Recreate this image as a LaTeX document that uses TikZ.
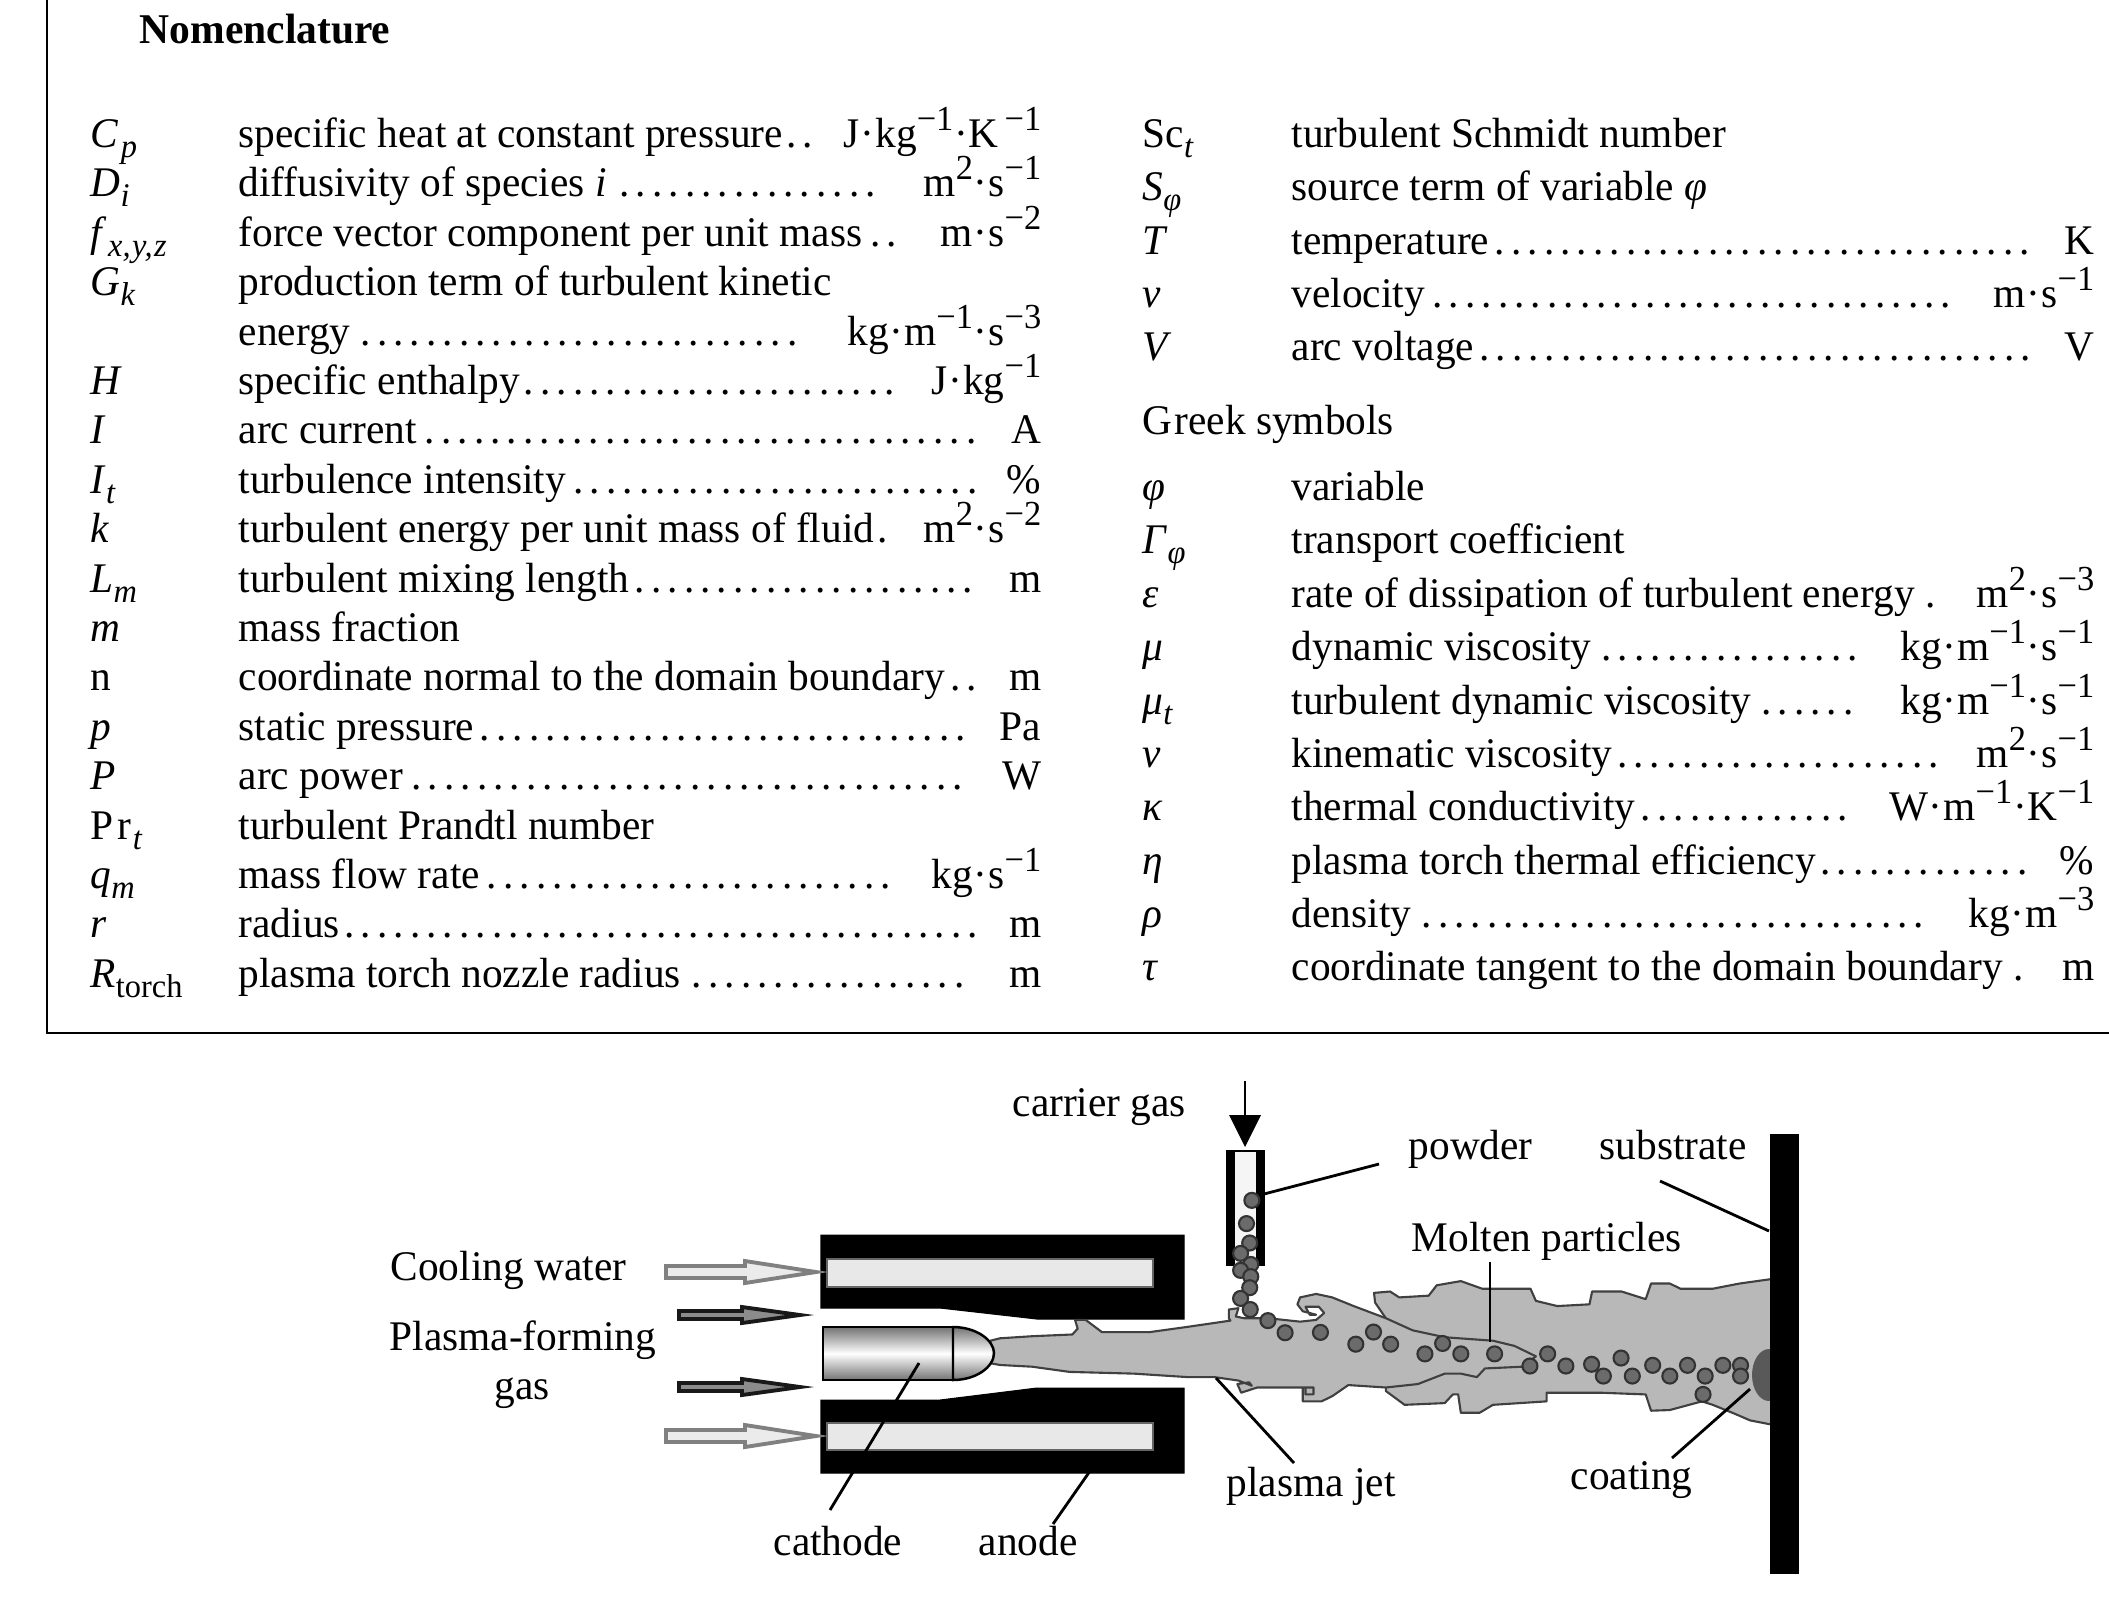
\documentclass[tikz,border=0pt]{standalone}
\usepackage{fontspec}
\setmainfont[FakeStretch=0.98]{Liberation Serif}
\newdimen\pxunit \pxunit=0.01cm
\newcommand\sbs[1]{\raisebox{-.24em}{\fontsize{9.4pt}{9pt}\selectfont #1}}
\newcommand\sps[1]{\raisebox{.4em}{\fontsize{10pt}{9pt}\selectfont #1}}
\newcommand\mdot{\kern.02em·\kern.02em}
\newcommand\mn{−}
\newcommand\dotrun{\cleaders\hbox to 16.4\pxunit{\hss.\hss}\hfill}
\def\colS{90}\def\colT{238}\def\colU{1042}
\newcommand\entry[4]{%
  \node[tx] (s#1) at (\colS,#2+1) {#3};
  \node[tx] (t#1) at (\colT,#2+1) {#4};}
\newcommand\entryu[6]{%
  \node[tx] (s#1) at (\colS,#2+1) {#3};
  \node[tx] (t#1) at (\colT,#2+1) {\hbox to \dimexpr\numexpr #5-\colT\relax\pxunit\relax{#4\dotrun}};
  \node[ux] (u#1) at (\colU,#2+1) {#6};}
\newcommand\entryc[5]{%
  \node[tx] (t#1) at (\colT,#2+1) {\hbox to \dimexpr\numexpr #4-\colT\relax\pxunit\relax{#3\dotrun}};
  \node[ux] (u#1) at (\colU,#2+1) {#5};}
\tikzset{
  tx/.style={anchor=base west,inner sep=0pt,font=\fontsize{12pt}{13pt}\selectfont},
  ux/.style={anchor=base east,inner sep=0pt,font=\fontsize{12pt}{13pt}\selectfont},
  lab/.style={anchor=base west,inner sep=0pt,font=\fontsize{12pt}{13pt}\selectfont},
  leader/.style={line width=0.8pt,black},
  anodeblk/.style={fill=black,draw=black,line width=0.3pt},
  hole/.style={fill=black!9,draw=black!60,line width=0.4pt},
  cath/.style={draw=black,line width=0.7pt,top color=black!55,bottom color=black!55,middle color=white},
  plume/.style={fill=black!28,draw=black!75,line width=0.6pt,line join=round},
  ptcl/.style={fill=black!58,draw=black!80,line width=0.6pt},
  hollowarr/.style={fill=black!8,draw=black!50,line width=1.1pt,line join=miter},
  darkarr/.style={fill=black!45,draw=black!90,line width=1.1pt,line join=miter},
}
\begin{document}
\begin{tikzpicture}[x=0.01cm,y=-0.01cm]
\useasboundingbox (0,0) rectangle (2109,1602);
% frame
\coordinate (fa) at (47,0); \coordinate (fb) at (47,1033); \coordinate (fc) at (2109,1033);
\draw[line width=0.5pt] (fa) -- (fb) -- (fc);
\node[tx,font=\fontsize{12.05pt}{14pt}\selectfont\bfseries] (title) at (139,43) {Nomenclature};
% left column
\entryu{a}{146}{\textit{C}\kern.05em\sbs{\textit{p}}}{specific heat at constant pressure}{816}{J\mdot kg\sps{\mn 1}\mdot K\sps{\,\mn 1}}
\entryu{b}{195}{\textit{D}\sbs{\textit{i}}}{diffusivity of species \textit{i}\,}{881}{m\sps{2}\mdot s\sps{\mn 1}}
\entryu{c}{245}{\textit{f}\kern.03em\sbs{\textit{x,\kern.04em y,\kern.04em z}}}{force vector component per unit mass}{904}{m\mdot s\sps{\mn 2}}
\entry{d}{294}{\textit{G}\sbs{\textit{k}}}{production term of turbulent kinetic}
\entryc{e}{344}{energy}{807}{kg\mdot m\sps{\mn 1}\mdot s\sps{\mn 3}}
\entryu{f}{393}{\textit{H}}{specific enthalpy}{898}{J\mdot kg\sps{\mn 1}}
\entryu{g}{442}{\textit{I}}{arc current}{984}{A}
\entryu{h}{492}{\textit{I}\sbs{\textit{t}}}{turbulence intensity}{984}{\%}
\entryu{i}{541}{\textit{k}}{turbulent energy per unit mass of fluid}{890}{m\sps{2}\mdot s\sps{\mn 2}}
\entryu{j}{591}{\textit{L}\sbs{\textit{m}}}{turbulent mixing length}{978}{m}
\entry{k}{640}{\textit{m}}{mass fraction}
\entryu{l}{689}{n}{coordinate normal to the domain boundary}{982}{m}
\entryu{m}{739}{\textit{p}}{static pressure}{971}{Pa}
\entryu{n}{788}{\textit{P}}{arc power}{971}{W}
\entry{o}{838}{P\kern.08em r\kern.05em\sbs{\textit{t}}}{turbulent Prandtl number}
\entryu{p}{887}{\textit{q}\sbs{\textit{m}}}{mass flow rate}{897}{kg\mdot s\sps{\mn 1}}
\entryu{q}{936}{\textit{r}}{radius}{982}{m}
\entryu{r}{986}{\textit{R}\sbs{torch}}{plasma torch nozzle radius}{975}{m}
% right column
\def\colS{1142}\def\colT{1291}\def\colU{2095}
\entry{A}{146}{Sc\sbs{\textit{t}}}{turbulent Schmidt number}
\entry{B}{199}{\textit{S}\sbs{\textit{φ}}}{source term of variable \textit{φ}}
\entryu{C}{253}{\textit{T}}{temperature}{2035}{K}
\entryu{D}{306}{\textit{v}}{velocity}{1958}{m\mdot s\sps{\mn 1}}
\entryu{E}{359}{\textit{V}}{arc voltage}{2035}{V}
\node[tx] (greek) at (1142,434) {G\kern.05em reek symbols};
\entry{F}{499}{\textit{φ}}{variable}
\entry{G}{552}{\textit{Γ}\sbs{\textit{φ}}}{transport coefficient}
\entryu{H}{606}{\textit{ε}}{rate of dissipation of turbulent energy}{1946}{m\sps{2}\mdot s\sps{\mn 3}}
\entryu{I}{659}{\textit{μ}}{dynamic viscosity}{1867}{kg\mdot m\sps{\mn 1}\mdot s\sps{\mn 1}}
\entryu{J}{713}{\textit{μ}\sbs{\textit{t}}}{turbulent dynamic viscosity}{1863}{kg\mdot m\sps{\mn 1}\mdot s\sps{\mn 1}}
\entryu{K}{766}{\textit{ν}}{kinematic viscosity}{1943}{m\sps{2}\mdot s\sps{\mn 1}}
\entryu{L}{819}{\textit{κ}}{thermal conductivity}{1853}{W\mdot m\sps{\mn 1}\mdot K\sps{\mn 1}}
\entryu{M}{873}{\textit{η}}{plasma torch thermal efficiency}{2031}{\%}
\entryu{N}{926}{\textit{ρ}}{density}{1934}{kg\mdot m\sps{\mn 3}}
\entryu{O}{979}{\textit{τ}}{coordinate tangent to the domain boundary}{2034}{m}
% torch
\draw[anodeblk] (821,1235) -- (1184,1235) -- (1184,1319) -- (1037,1319) -- (940,1308) -- (821,1308) -- cycle;
\draw[anodeblk] (821,1473) -- (1184,1473) -- (1184,1388) -- (1037,1388) -- (940,1400) -- (821,1400) -- cycle;
\draw[hole] (827,1259) rectangle (1153,1287);
\draw[hole] (827,1423) rectangle (1153,1450);
% plume and core (coordinates of the second crop)
\begin{scope}[shift={(1000,1060)},x=0.005356cm,y=-0.00346cm]
\draw[plume] (720,745) -- (700,700) -- (698,672) -- (728,668) -- (745,685) -- (800,680) -- (815,650) -- (860,638) -- (900,660) -- (990,660) -- (1000,695) -- (1040,710) -- (1100,705) -- (1105,668) -- (1160,668) -- (1205,690) -- (1215,645) -- (1250,645) -- (1270,660) -- (1330,660) -- (1380,645) -- (1440,632) -- (1440,1052) -- (1400,1040) -- (1370,1020) -- (1330,995) -- (1310,985) -- (1250,1010) -- (1215,1012) -- (1205,965) -- (1120,960) -- (1020,960) -- (1020,985) -- (920,995) -- (895,1018) -- (860,1018) -- (855,965) -- (845,965) -- (830,990) -- (755,995) -- (720,955) -- (720,945) -- cycle;
\draw[plume] (-18,810) -- (0,803) -- (60,797) -- (135,792) -- (145,775) -- (140,750) -- (160,750) -- (190,785) -- (280,785) -- (350,770) -- (430,752)
 -- (427,745) -- (427,720) -- (445,716) -- (440,740) -- (455,745) -- (500,745) -- (560,755) -- (590,750) -- (605,730) -- (595,712) -- (570,712) -- (578,735) -- (590,735) -- (565,725) -- (555,705) -- (560,685) -- (590,675) -- (620,685) -- (660,710) -- (720,745) -- (770,780) -- (830,800) -- (920,810) -- (960,825) -- (1000,855) -- (975,885) -- (905,890) -- (890,915) -- (860,905) -- (830,905) -- (780,935) -- (720,945) -- (650,938) -- (620,970) -- (600,985) -- (565,985) -- (565,945) -- (585,945) -- (585,965) -- (570,965) -- (570,945) -- (530,945) -- (480,945) -- (450,960) -- (443,935) -- (465,930) -- (470,940) -- (445,925) -- (400,915) -- (350,915) -- (250,905) -- (130,900) -- (60,885) -- (0,880) -- (-18,875) -- cycle;
\end{scope}
% cathode
\draw[cath] (823,1327) rectangle (953,1380);
\draw[cath] (953,1327) .. controls (976,1327) and (994,1340) .. (994,1353) .. controls (994,1367) and (976,1380) .. (953,1380) -- cycle;
% injector: thin top and bottom, thick side walls
\draw[fill=black!4,draw=black,line width=0.7pt] (1227,1151) rectangle (1264,1265);
\fill (1227,1151) rectangle (1235,1265);
\fill (1256,1151) rectangle (1264,1265);
% coating and substrate
\fill[black!65] (1769,1375) ellipse [x radius=17, y radius=26];
\node[fill=black,minimum width=29\pxunit,minimum height=440\pxunit,inner sep=0pt,anchor=north west] (sub) at (1769,1133) {};
% particles
\begin{scope}[shift={(1000,1060)},x=0.005356cm,y=-0.00346cm]
\foreach \px/\py in {470/405,460/472,466/528,449/558,468/590,449/607,468/625,466/657,449/688,467/720,500/752,532/787,598/786,664/820,697/785,729/820,793/848,826/818,860/848,923/848,989/883,1022/848,1056/883,1104/878,1126/912,1159/860,1180/912,1218/881,1250/912,1283/881,1316/912,1349/881,1382/881,1382/912,1312/965}
  \draw[ptcl] (\px,\py) circle [radius=0.075cm];
\end{scope}
% arrows
\foreach \yy in {1272,1436}
  \draw[hollowarr] (666,\yy-6) -- (745,\yy-6) -- (745,\yy-11) -- (816,\yy) -- (745,\yy+11) -- (745,\yy+6) -- (666,\yy+6) -- cycle;
\foreach \yy in {1315,1387}
  \draw[darkarr] (679,\yy-4) -- (742,\yy-4) -- (742,\yy-8) -- (800,\yy) -- (742,\yy+8) -- (742,\yy+4) -- (679,\yy+4) -- cycle;
% labels
\node[lab] (lcool) at (390,1280) {Cooling water};
\node[lab] (lplasma) at (389,1350) {Plasma-forming};
\node[lab,anchor=base] (lgas) at (522,1399) {gas};
\node[lab] (lcarrier) at (1012,1116) {carrier gas};
\node[lab] (lpowder) at (1408,1159) {powder};
\node[lab] (lsub) at (1599,1159) {substrate};
\node[lab] (lmolten) at (1411,1251) {Molten particles};
\node[lab] (ljet) at (1226,1496) {plasma jet};
\node[lab] (lcoat) at (1570,1489) {coating};
\node[lab] (lcath) at (773,1555) {cathode};
\node[lab] (lanode) at (978,1555) {anode};
% leaders
\coordinate (c1) at (919,1363); \coordinate (c2) at (830,1510);
\coordinate (a1) at (1097,1461); \coordinate (a2) at (1053,1524);
\coordinate (p1) at (1379,1164); \coordinate (p2) at (1264,1194);
\coordinate (s1) at (1660,1181); \coordinate (s2) at (1769,1231);
\coordinate (m1) at (1490,1262); \coordinate (m2) at (1490,1342);
\coordinate (j1) at (1216,1378); \coordinate (j2) at (1294,1463);
\coordinate (o1) at (1750,1389); \coordinate (o2) at (1672,1458);
\draw[leader] (c1) -- (c2);
\draw[leader] (a1) -- (a2);
\draw[leader] (p1) -- (p2);
\draw[leader] (s1) -- (s2);
\draw[leader] (m1) -- (m2);
\draw[leader] (j1) -- (j2);
\draw[leader] (o1) -- (o2);
% carrier gas arrow
\coordinate (g1) at (1245,1081); \coordinate (g2) at (1245,1115);
\draw[line width=0.6pt] (g1) -- (g2);
\fill (1229,1115) -- (1261,1115) -- (1245,1147) -- cycle;
\end{tikzpicture}
\end{document}
